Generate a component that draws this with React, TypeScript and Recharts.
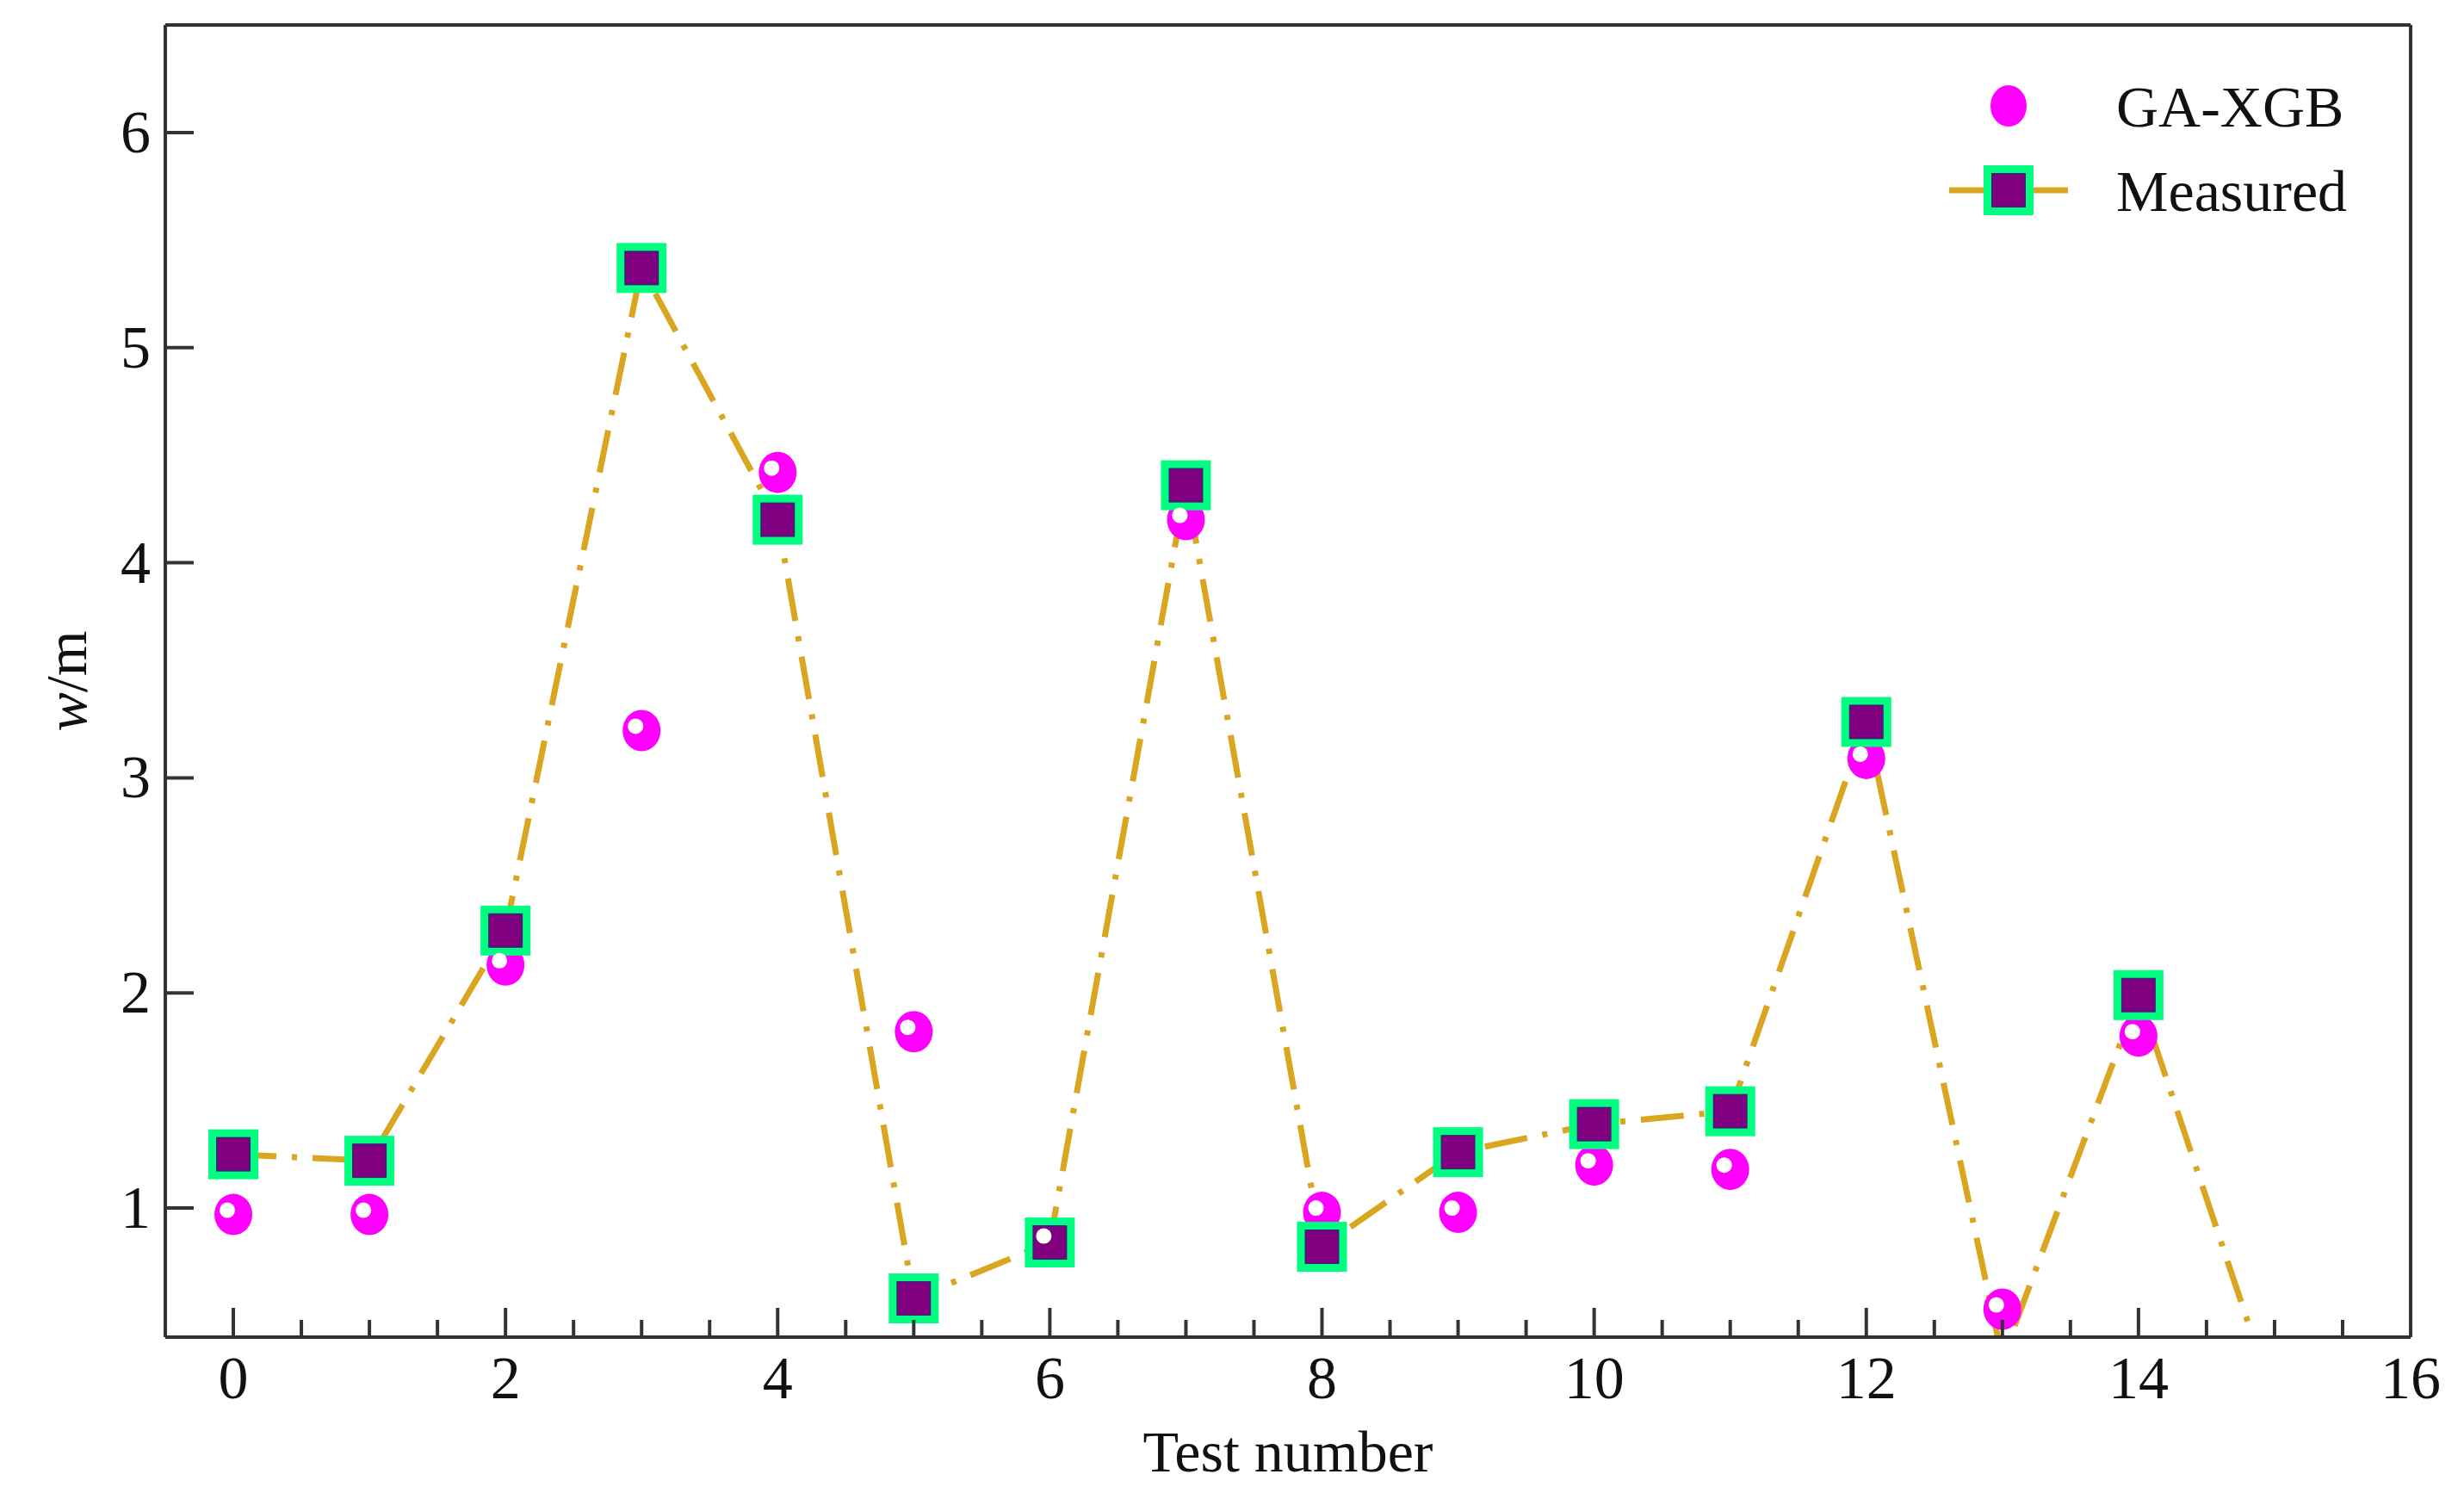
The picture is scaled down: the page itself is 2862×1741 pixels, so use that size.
import React from "react";
import { ComposedChart, Line, XAxis, YAxis, ReferenceLine } from "recharts";

// test numbers along the x axis
const testNumbers = [0, 1, 2, 3, 4, 5, 6, 7, 8, 9, 10, 11, 12, 13, 14, 15];
// measured w/m (line + square markers)
const measured = [
  1.25, 1.22, 2.29, 5.37, 4.2, 0.58, 0.84, 4.36, 0.82, 1.26, 1.39, 1.45, 3.26,
  0.3, 1.99, 0.1,
];
// GA-XGB predictions (circle markers)
const gaXgb = [
  0.97, 0.97, 2.13, 3.22, 4.42, 1.82, 0.85, 4.2, 0.98, 0.98, 1.2, 1.18, 3.09,
  0.53, 1.8, null,
];

const xTicks = [
  0, 0.5, 1, 1.5, 2, 2.5, 3, 3.5, 4, 4.5, 5, 5.5, 6, 6.5, 7, 7.5, 8, 8.5, 9,
  9.5, 10, 10.5, 11, 11.5, 12, 12.5, 13, 13.5, 14, 14.5, 15, 15.5, 16,
];
const xTickLabels = ["0", "2", "4", "6", "8", "10", "12", "14", "16"];
const yTicks = [1, 2, 3, 4, 5, 6];
const seriesNames = ["GA-XGB", "Measured"];

const xDomain = [-0.5, 16];
const yDomain = [0.4, 6.5];

const FONT = "'Liberation Serif', 'Times New Roman', serif";
const LINE_COLOR = "#DAA520";
const GREEN = "#00FF80";
const PURPLE = "#800080";
const MAGENTA = "#FF00FF";
const AXIS = "#333";

const data = testNumbers.map((t, i) => ({
  x: t,
  measured: measured[i],
  predicted: gaXgb[i],
}));

// markers whose value lies below the axis are clipped away in the figure
const inView = (v: number | null | undefined) =>
  v != null && v >= yDomain[0] && v <= yDomain[1];

function XTick({ x, y, payload }: any) {
  const v = payload.value;
  const major = xTickLabels.includes(String(v));
  return (
    <g>
      <line
        x1={x}
        y1={y}
        x2={x}
        y2={y - (major ? 34 : 20)}
        stroke={AXIS}
        strokeWidth={4}
      />
      {major && (
        <text
          x={x}
          y={y + 71}
          textAnchor="middle"
          fontFamily={FONT}
          fontSize={70}
          fill="#111"
        >
          {v}
        </text>
      )}
    </g>
  );
}

function YTick({ x, y, payload }: any) {
  return (
    <g>
      <line x1={x} y1={y} x2={x + 33} y2={y} stroke={AXIS} strokeWidth={4} />
      <text
        x={x - 17}
        y={y + 23}
        textAnchor="end"
        fontFamily={FONT}
        fontSize={70}
        fill="#111"
      >
        {payload.value}
      </text>
    </g>
  );
}

function Square({ cx, cy }: { cx: number; cy: number }) {
  return (
    <g>
      <rect
        x={cx - 24}
        y={cy - 24}
        width={48}
        height={48}
        fill={PURPLE}
        stroke={GREEN}
        strokeWidth={10}
      />
      <rect
        x={cx - 19}
        y={cy - 19}
        width={38}
        height={38}
        fill="none"
        stroke="#4a1a7a"
        strokeWidth={2}
      />
    </g>
  );
}

const renderSquare = (props: any) => {
  const { cx, cy, index, value } = props;
  if (cx == null || cy == null || !inView(value)) return <g key={`sq-${index}`} />;
  return (
    <g key={`sq-${index}`}>
      <Square cx={cx} cy={cy} />
    </g>
  );
};

const renderCircle = (props: any) => {
  const { cx, cy, index, value } = props;
  if (cx == null || cy == null || !inView(value)) return <g key={`ci-${index}`} />;
  return <ellipse key={`ci-${index}`} cx={cx} cy={cy} rx={22} ry={24} fill={MAGENTA} />;
};

const renderHighlight = (props: any) => {
  const { cx, cy, index, value } = props;
  if (cx == null || cy == null || !inView(value)) return <g key={`hl-${index}`} />;
  return <circle key={`hl-${index}`} cx={cx - 7} cy={cy - 5} r={9} fill="#fff" />;
};

function LegendBox() {
  return (
    <svg
      width={620}
      height={230}
      style={{ position: "absolute", left: 2226, top: 60 }}
    >
      <ellipse cx={107} cy={63} rx={21} ry={24} fill={MAGENTA} />
      <text x={232} y={87} fontFamily={FONT} fontSize={68} fill="#111">
        {seriesNames[0]}
      </text>
      <line x1={38} y1={161} x2={176} y2={161} stroke={LINE_COLOR} strokeWidth={7} />
      <Square cx={107} cy={161} />
      <text x={232} y={185} fontFamily={FONT} fontSize={68} fill="#111">
        {seriesNames[1]}
      </text>
    </svg>
  );
}

export default function App() {
  return (
    <div
      style={{
        position: "absolute",
        left: 0,
        top: 0,
        width: 2862,
        height: 1741,
        background: "#fff",
      }}
    >
      <ComposedChart
        width={2862}
        height={1741}
        data={data}
        margin={{ top: 29, right: 62, bottom: 0, left: 0 }}
      >
        <XAxis
          dataKey="x"
          type="number"
          domain={xDomain}
          ticks={xTicks}
          interval={0}
          height={188}
          tickSize={0}
          tickMargin={0}
          tickLine={false}
          axisLine={{ stroke: AXIS, strokeWidth: 4 }}
          tick={<XTick />}
          allowDataOverflow
          label={{
            content: ({ viewBox }: any) => (
              <text
                x={viewBox.x + viewBox.width / 2}
                y={viewBox.y + 156}
                textAnchor="middle"
                fontFamily={FONT}
                fontSize={68}
                fill="#111"
              >
                Test number
              </text>
            ),
          }}
        />
        <YAxis
          type="number"
          domain={yDomain}
          ticks={yTicks}
          interval={0}
          width={192}
          tickSize={0}
          tickMargin={0}
          tickLine={false}
          axisLine={{ stroke: AXIS, strokeWidth: 4 }}
          tick={<YTick />}
          allowDataOverflow
          label={{
            content: ({ viewBox }: any) => {
              const cx = viewBox.x + 77;
              const cy = viewBox.y + viewBox.height / 2;
              return (
                <text
                  x={cx}
                  y={cy}
                  transform={`rotate(-90, ${cx}, ${cy})`}
                  textAnchor="middle"
                  dominantBaseline="central"
                  fontFamily={FONT}
                  fontSize={68}
                  fill="#111"
                >
                  <tspan fontStyle="italic">w</tspan>/m
                </text>
              );
            },
          }}
        />
        {/* top and right frame */}
        <ReferenceLine y={yDomain[1]} stroke={AXIS} strokeWidth={4} />
        <ReferenceLine x={xDomain[1]} stroke={AXIS} strokeWidth={4} />
        <Line
          dataKey="predicted"
          stroke="none"
          dot={renderCircle}
          activeDot={false}
          isAnimationActive={false}
        />
        <Line
          type="linear"
          dataKey="measured"
          stroke={LINE_COLOR}
          strokeWidth={7}
          strokeDasharray="50 18 6 18"
          dot={renderSquare}
          activeDot={false}
          isAnimationActive={false}
        />
        <Line
          dataKey="predicted"
          stroke="none"
          dot={renderHighlight}
          activeDot={false}
          isAnimationActive={false}
        />
      </ComposedChart>
      <LegendBox />
    </div>
  );
}
